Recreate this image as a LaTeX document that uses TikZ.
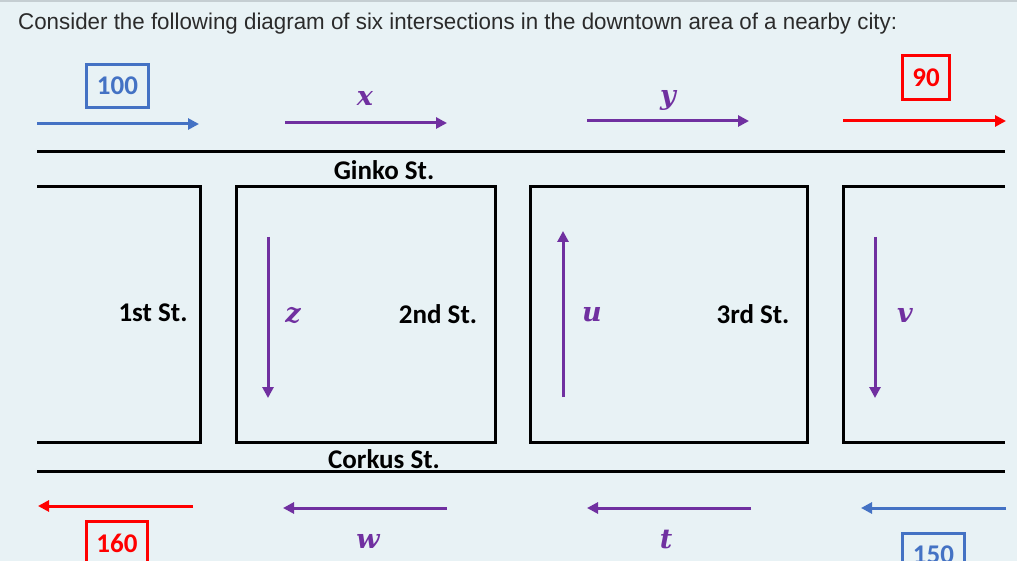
\documentclass[tikz,border=0pt]{standalone}
\usepackage{fontspec}
\setmainfont{Carlito}
\newfontfamily\titlefont{Liberation Sans}
\newfontfamily\varfont{DejaVu Serif}
\usetikzlibrary{arrows.meta}
\definecolor{bg}{HTML}{E8F2F5}
\definecolor{myblue}{HTML}{4472C4}
\definecolor{mypurple}{HTML}{7030A0}
\definecolor{myred}{HTML}{FF0000}
\definecolor{topline}{HTML}{C5CED2}
\definecolor{titlegray}{HTML}{2B2B2B}
\tikzset{
  street/.style={line width=3pt, black, line join=miter},
  flow/.style={line width=3pt, -{Triangle[length=11pt,width=11pt]}},
  numbox/.style={draw, line width=3pt, inner sep=0pt, font=\fontsize{27}{27}\selectfont\bfseries},
  lbl/.style={inner sep=0pt, font=\fontsize{27}{27}\selectfont\bfseries},
  var/.style={inner sep=0pt, text=mypurple, font=\varfont\fontsize{27}{27}\selectfont\bfseries\itshape},
}
\begin{document}
\begin{tikzpicture}[x=1pt,y=-1pt]
\useasboundingbox (0,0) rectangle (1017,561);
\clip (0,0) rectangle (1017,561);
\fill[bg] (0,0) rectangle (1017,561);
\draw[topline, line width=2pt] (0,1) -- (1017,1);
% title
\node[anchor=base west, inner sep=0pt, text=titlegray] (title) at (18,29.5) {\resizebox{879pt}{16.5pt}{\titlefont\fontsize{22}{22}\selectfont Consider the following diagram of six intersections in the downtown area of a nearby city:}};
% streets
\draw[street] (37,152) -- (1005,152);
\draw[street] (37,471) -- (1005,471);
\draw[street] (37,187) -- (200,187) -- (200,442) -- (37,442);
\draw[street] (236,187) rectangle (495,442);
\draw[street] (530,187) rectangle (807,442);
\draw[street] (1005,187) -- (843,187) -- (843,442) -- (1005,442);
\node[lbl] (ginko) at (384,170) {Ginko St.};
\node[lbl] (corkus) at (384,459) {Corkus St.};
\node[lbl] (first) at (153,313) {1st St.};
\node[lbl] (second) at (438,314) {2nd St.};
\node[lbl] (third) at (753,314) {3rd St.};
% top arrows
\coordinate (a1s) at (37,124); \coordinate (a1e) at (199,124);
\coordinate (xs) at (285,123); \coordinate (xe) at (447,123);
\coordinate (ys) at (587,121); \coordinate (ye) at (749,121);
\coordinate (rs) at (843,121); \coordinate (re) at (1006,121);
\draw[flow, myblue] (a1s) -- (a1e);
\draw[flow, mypurple] (xs) -- (xe);
\draw[flow, mypurple] (ys) -- (ye);
\draw[flow, myred] (rs) -- (re);
\node[numbox, myblue, minimum width=62pt, minimum height=43pt] (n100) at (117.5,86) {100};
\node[numbox, myred, minimum width=47pt, minimum height=44pt] (n90) at (926,77.5) {90};
\node[var] (vx) at (365,98) {x};
\node[var] (vy) at (668,100) {y};
% bottom arrows
\coordinate (b1s) at (193,506); \coordinate (b1e) at (38,506);
\coordinate (ws) at (447,508); \coordinate (we) at (283,508);
\coordinate (ts) at (751,508); \coordinate (te) at (587,508);
\coordinate (b2s) at (1006,508); \coordinate (b2e) at (861,508);
\draw[flow, myred] (b1s) -- (b1e);
\draw[flow, mypurple] (ws) -- (we);
\draw[flow, mypurple] (ts) -- (te);
\draw[flow, myblue] (b2s) -- (b2e);
\node[numbox, myred, minimum width=61pt, minimum height=43pt] (n160) at (117,543) {160};
\node[numbox, myblue, minimum width=62pt, minimum height=43pt] (n150) at (933.5,555) {150};
\node[var] (vw) at (368,541) {w};
\node[var] (vt) at (666,540) {t};
% vertical arrows
\coordinate (zs) at (268,237); \coordinate (ze) at (268,398);
\coordinate (us) at (563,397); \coordinate (ue) at (563,231);
\coordinate (vs) at (875,237); \coordinate (ve) at (875,398);
\draw[flow, mypurple] (zs) -- (ze);
\draw[flow, mypurple] (us) -- (ue);
\draw[flow, mypurple] (vs) -- (ve);
\node[var] (vz) at (293,315) {z};
\node[var] (vu) at (592,315) {u};
\node[var] (vv) at (905,315) {v};
\end{tikzpicture}
\end{document}
